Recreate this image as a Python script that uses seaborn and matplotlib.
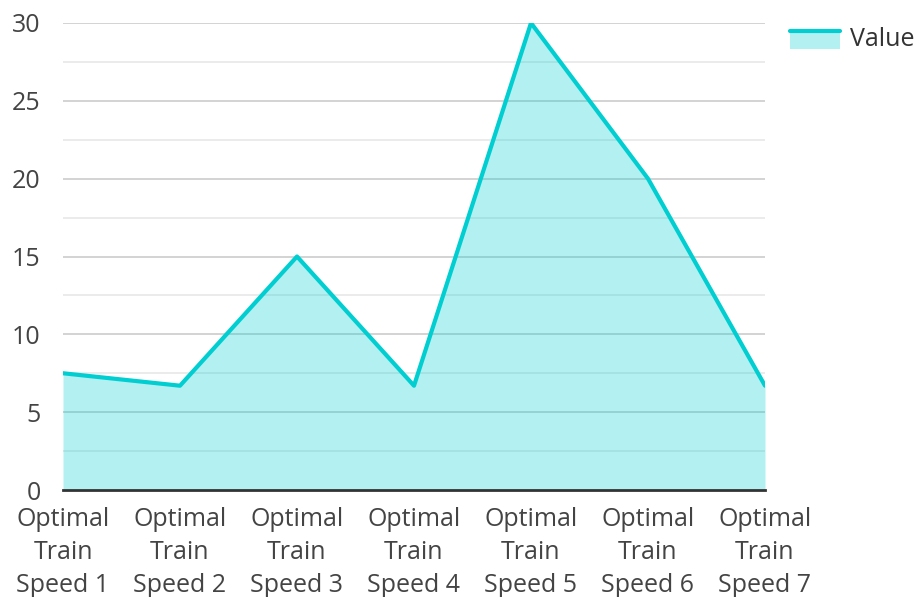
import matplotlib
matplotlib.use("Agg")
import matplotlib.pyplot as plt
import seaborn as sns
import pandas as pd
from matplotlib.legend_handler import HandlerBase
from matplotlib.patches import Rectangle
from matplotlib.lines import Line2D

categories = [f"Optimal\nTrain\nSpeed {i}" for i in range(1, 8)]
values = [7.5, 6.7, 15, 6.7, 30, 20, 6.7]
y_ticks = [0, 5, 10, 15, 20, 25, 30]

LINE = "#00CED1"
TEXT = "#444444"

sns.set_theme(style="white")
plt.rcParams["font.family"] = ["Open Sans", "DejaVu Sans"]

df = pd.DataFrame({"pos": range(len(categories)), "value": values})

fig = plt.figure(figsize=(9.14, 5.97), dpi=100)
ax = fig.add_axes([63 / 914, 1 - 490 / 597, (765 - 63) / 914, (490 - 23) / 597])

# grid: major every 5, minor halfway between
for y in y_ticks[1:]:
    ax.axhline(y, color="#cccccc", lw=1.2, zorder=0)
for y in [2.5, 7.5, 12.5, 17.5, 22.5, 27.5]:
    ax.axhline(y, color="#e8e8e8", lw=1.2, zorder=0)

ax.fill_between(df["pos"], df["value"], 0, color=LINE, alpha=0.3, lw=0, zorder=1)
sns.lineplot(data=df, x="pos", y="value", color=LINE, lw=3, ax=ax, zorder=3,
             legend=False)

ax.set_xlim(0, len(categories) - 1)
ax.set_ylim(0, 30)
ax.set_xticks(range(len(categories)))
ax.set_xticklabels(categories, fontsize=18, color=TEXT, linespacing=1.42)
ax.set_yticks(y_ticks)
ax.set_yticklabels([str(v) for v in y_ticks], fontsize=18, color=TEXT)
ax.tick_params(axis="x", length=0, pad=12)
ax.tick_params(axis="y", length=0, pad=16)
ax.set_xlabel("")
ax.set_ylabel("")
for side in ["top", "right", "left"]:
    ax.spines[side].set_visible(False)
ax.spines["bottom"].set_color("#333333")
ax.spines["bottom"].set_linewidth(2)
ax.spines["bottom"].set_zorder(4)


class AreaHandle(HandlerBase):
    def create_artists(self, legend, orig, xd, yd, width, height, fontsize, trans):
        rect = Rectangle((xd, yd - 2), width, height, facecolor=LINE, alpha=0.3,
                         lw=0, transform=trans)
        line = Line2D([xd, xd + width], [yd + height - 2, yd + height - 2],
                      color=LINE, lw=3, transform=trans)
        return [rect, line]


proxy = Rectangle((0, 0), 1, 1)
leg = fig.legend([proxy], ["Value"], handler_map={Rectangle: AreaHandle()},
                 loc="upper left", bbox_to_anchor=(790 / 914, 1 - 27 / 597),
                 frameon=False, fontsize=18, handlelength=2.0, handleheight=0.7,
                 handletextpad=0.4, borderaxespad=0, borderpad=0)
for t in leg.get_texts():
    t.set_color("#333333")

fig.savefig("out.png", dpi=100)
